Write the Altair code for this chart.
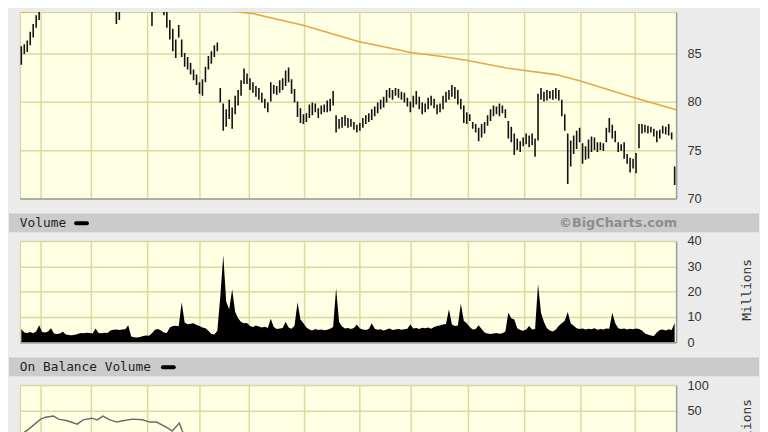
import altair as alt
import pandas as pd

# ---- daily price bars (low / high), one per trading day ----
lo = [83.8, 84.9, 85.1, 85.8, 86.6, 87.6, 88.4, 89.5, 90.2, 90.6,
      90.9, 90.5, 90.3, 90.0, 89.8, 89.6, 89.4, 89.5, 89.7, 89.6,
      89.9, 90.1, 90.4, 90.6, 90.8, 91.0, 90.7, 90.5, 90.2, 90.0,
      89.9, 89.4, 88.0, 88.4, 89.6, 90.1, 90.4, 90.7, 90.9, 91.1,
      90.8, 90.5, 90.3, 89.9, 87.8, 89.2, 89.9, 89.4, 88.9, 87.6,
      86.4, 85.2, 84.5, 86.6, 84.6, 83.6, 83.3, 82.8, 82.2, 81.7,
      80.8, 80.6, 82.0, 83.3, 83.9, 84.6, 85.2, 79.9, 77.0, 77.4,
      78.2, 77.2, 78.7, 79.6, 80.6, 81.8, 81.8, 81.2, 80.9, 80.5,
      80.2, 79.9, 79.3, 78.9, 80.0, 80.8, 80.7, 80.9, 81.2, 81.6,
      82.0, 80.8, 79.9, 78.4, 77.8, 77.7, 77.9, 78.3, 78.6, 78.9,
      78.3, 78.7, 78.9, 78.9, 79.0, 79.6, 76.8, 77.2, 77.3, 77.5,
      77.3, 77.4, 77.1, 76.8, 77.0, 77.3, 77.7, 77.9, 78.1, 78.5,
      78.8, 79.2, 79.4, 79.9, 80.4, 80.2, 80.6, 80.4, 80.2, 79.9,
      79.5, 78.9, 79.4, 79.7, 79.2, 78.7, 78.9, 79.2, 79.6, 79.3,
      78.7, 78.9, 79.2, 79.9, 80.2, 80.5, 80.3, 79.7, 79.2, 77.8,
      77.7, 78.0, 77.2, 76.8, 75.9, 76.3, 76.7, 77.5, 78.0, 78.5,
      78.7, 78.5, 78.8, 78.3, 76.2, 75.8, 74.5, 75.0, 74.8, 75.4,
      75.6, 75.3, 75.5, 74.3, 76.0, 80.2, 80.0, 80.1, 80.3, 80.2,
      80.3, 80.1, 78.5, 77.0, 71.5, 73.3, 74.6, 75.1, 75.8, 73.6,
      74.0, 74.1, 74.8, 75.0, 74.8, 75.0, 74.9, 75.8, 76.8, 76.2,
      75.8, 74.8, 74.9, 74.1, 73.6, 72.7, 73.1, 72.6, 75.2, 76.7,
      76.8, 76.7, 76.8, 76.4, 75.8, 76.2, 76.7, 76.6, 76.5, 76.1,
      71.4]
hi = [85.7, 85.9, 86.3, 87.2, 88.0, 88.9, 89.8, 90.6, 91.3, 91.8,
      92.0, 91.7, 91.4, 91.2, 90.9, 90.8, 90.5, 90.7, 90.9, 90.6,
      91.0, 91.2, 91.5, 91.8, 92.1, 92.3, 91.9, 91.6, 91.4, 91.1,
      91.0, 90.6, 90.4, 90.0, 90.8, 91.2, 91.6, 91.9, 92.2, 92.4,
      92.0, 91.7, 91.4, 91.1, 90.6, 90.5, 91.0, 90.6, 90.2, 89.4,
      88.4, 87.5, 86.4, 87.9, 86.4, 85.0, 84.6, 84.0, 83.3, 82.8,
      82.0, 82.3, 83.6, 84.7, 85.2, 85.8, 86.1, 81.4, 79.8, 79.2,
      80.2, 79.4, 80.6, 81.2, 82.2, 83.4, 82.9, 82.4, 82.0, 81.6,
      81.4, 80.9, 80.3, 79.9, 82.0, 81.7, 81.6, 82.2, 82.4, 83.2,
      83.5, 82.3, 81.3, 80.0, 79.3, 78.7, 78.8, 79.7, 79.9, 79.8,
      79.3, 79.6, 79.7, 80.1, 80.3, 81.1, 78.6, 78.2, 78.4, 78.6,
      78.3, 78.2, 77.9, 77.6, 77.8, 78.3, 78.6, 78.8, 79.2, 79.5,
      79.9, 80.2, 80.5, 81.2, 81.4, 81.2, 81.4, 81.3, 81.0, 80.9,
      80.4, 80.0, 80.6, 81.1, 80.5, 79.9, 79.8, 80.4, 80.6, 80.3,
      79.7, 79.8, 80.6, 81.0, 81.2, 81.7, 81.5, 81.2, 80.3, 79.6,
      78.9, 78.7, 77.9, 77.7, 77.3, 77.7, 77.9, 78.6, 79.2, 79.6,
      79.5, 79.8, 79.6, 79.2, 78.0, 77.4, 76.7, 76.2, 75.9, 76.3,
      76.7, 76.5, 76.7, 76.2, 80.8, 81.4, 81.0, 81.2, 81.1, 81.2,
      81.4, 81.2, 80.2, 78.7, 76.7, 76.0, 76.5, 77.0, 77.3, 75.7,
      75.4, 76.1, 76.4, 76.3, 75.8, 75.8, 75.7, 77.3, 78.3, 77.6,
      77.0, 75.8, 75.6, 75.8, 74.6, 74.2, 74.1, 74.7, 77.7, 77.7,
      77.6, 77.5, 77.4, 77.2, 77.0, 77.1, 77.5, 77.4, 77.7, 76.8,
      73.3]

# ---- daily volume, millions ----
volume = [5.2, 3.8, 3.6, 4.0, 3.5, 4.2, 6.7, 4.0, 3.8, 4.2,
          5.5, 3.4, 3.2, 3.4, 4.1, 3.0, 2.8, 2.7, 2.9, 3.2,
          3.6, 3.5, 3.7, 3.6, 3.4, 5.4, 3.6, 3.5, 3.7, 3.6,
          4.6, 4.9, 5.0, 4.8, 5.0, 5.1, 6.7, 2.2, 1.9, 1.8,
          2.0, 2.4, 2.6, 2.5, 3.5, 4.9, 5.2, 4.6, 3.8, 3.6,
          5.8, 6.4, 6.5, 6.3, 15.8, 7.8, 7.1, 7.3, 7.5, 6.8,
          6.4, 5.8, 5.5, 4.5, 3.2, 3.0, 4.5, 18.0, 34.5, 16.0,
          13.0, 20.9, 12.0, 9.5, 8.0, 7.5, 7.6, 6.4, 6.0, 6.6,
          6.2, 5.8, 6.1, 5.6, 9.3, 6.0, 5.2, 5.4, 5.6, 8.1,
          5.8, 5.3, 6.5, 15.8, 9.0, 7.5, 5.8, 5.0, 4.6, 5.2,
          4.8, 5.0, 4.7, 4.9, 5.3, 6.0, 21.4, 8.0, 6.2, 5.4,
          5.6, 5.2, 5.6, 7.0, 5.4, 5.0, 4.8, 5.2, 7.5, 5.3,
          4.9, 5.1, 4.6, 5.0, 5.4, 4.8, 5.0, 5.2, 4.9, 5.1,
          5.3, 7.0, 5.4, 5.6, 5.2, 5.7, 5.5, 5.8, 5.3, 6.0,
          6.4, 6.6, 7.0, 7.2, 13.0, 7.0, 6.4, 6.6, 15.2, 8.5,
          7.5, 6.0, 5.0, 5.2, 6.7, 5.2, 3.8, 3.4, 3.2, 3.4,
          3.6, 3.3, 3.5, 4.2, 11.6, 9.5, 9.0, 5.5, 4.8, 4.5,
          5.0, 6.4, 5.0, 5.2, 23.0, 11.6, 8.0, 5.5, 4.6, 4.2,
          5.0, 6.5, 7.5, 8.5, 11.9, 7.5, 6.5, 5.5, 5.2, 5.4,
          5.0, 5.3, 5.1, 5.5, 4.9, 5.2, 5.0, 5.4, 5.3, 11.6,
          7.5, 5.5, 5.2, 5.4, 5.0, 5.3, 5.1, 5.4, 5.2, 4.6,
          3.4, 3.0, 2.6, 2.4, 3.8, 4.8, 5.0, 4.6, 5.1, 4.8,
          7.6]

# ---- 200-day moving average (read at a few days) ----
ma_day = [0, 6.5, 15.8, 23.8, 33, 55, 59.7, 70.6, 78.3, 94.9, 113.8,
          124.5, 131.1, 141.1, 150.4, 163.3, 180, 188, 206.2, 220.5]
ma_price = [89.2, 89.35, 89.55, 89.75, 89.8, 89.8, 89.56, 89.33, 89.05,
            87.86, 86.17, 85.5, 85.06, 84.68, 84.24, 83.46, 82.78, 82.14,
            80.41, 79.15]

# ---- on balance volume, millions ----
obv_day = [0, 2.5, 6.5, 8.2, 10.8, 12.5, 15.5, 18.8, 20.8, 23.8, 25.5, 27.5,
           29.8, 32.2, 34.2, 37.5, 40.8, 43.2, 45.5, 48.8, 50.8, 53.2, 54.2,
           56, 60, 68]
obv_value = [2, 12.7, 32.4, 36.3, 38.8, 32.4, 29, 22.5, 31, 34.3, 31, 38.2,
             31, 26.5, 29, 32.4, 31, 26.5, 26.5, 16.7, 8.8, 24.5, 8.8,
             -10, -30, -80]

# monthly grid positions (trading-day index)
month_breaks = [6.5, 23.4, 42.4, 60.0, 76.6, 95.2, 113.8, 131.1, 150.4,
                169.3, 188.1, 206.4]

N = len(hi)
day = list(range(N))

BG = "#ebebeb"
PLOT = "#ffffe3"
GRID = "#dcd8a0"
FRAME = "#9c9c9c"
HEADER = "#cbcbcb"

price_df = pd.DataFrame({"day": day, "lo": lo, "hi": hi})
vol_df = pd.DataFrame({"day": day, "vol": volume})
ma_df = pd.DataFrame({"day": ma_day, "ma": ma_price})
obv_df = pd.DataFrame({"day": obv_day, "obv": obv_value})
one = pd.DataFrame({"k": [0]})

W = 665
PRICE_H = 189
PRICE_PX = 9.83
price_top = 70 + PRICE_H / PRICE_PX
VOL_H = 102.5
OBV_H = 89.25


def x_enc():
    return alt.X("day:Q",
                 scale=alt.Scale(domain=[-0.5, N - 0.5], nice=False, zero=False),
                 axis=alt.Axis(values=month_breaks, labels=False, ticks=False,
                               title=None, grid=True, gridColor=GRID,
                               gridWidth=1.5, domainColor=FRAME,
                               domainWidth=1.5))


def y_axis(values, title=None, title_y=None):
    kw = dict(orient="right", values=values, ticks=False, labelPadding=11,
              grid=True, gridColor=GRID, gridWidth=1.5, domainColor=FRAME,
              domainWidth=1.5, labelFont="Liberation Sans", labelFontSize=13,
              labelColor="#333333")
    if title:
        kw.update(title=title, titleFont="DejaVu Sans Mono", titleFontSize=13,
                  titleFontWeight="normal", titleColor="#333333",
                  titleAngle=270, titleX=71, titleY=title_y,
                  titleAlign="center", titleBaseline="middle")
    else:
        kw.update(title=None)
    return alt.Axis(**kw)


def header(label, dash_x):
    bar = alt.Chart(one).mark_rect(color=HEADER).encode(
        x=alt.value(-11), x2=alt.value(749), y=alt.value(-28), y2=alt.value(-9))
    txt = alt.Chart(one).mark_text(
        text=label, align="left", baseline="middle", font="DejaVu Sans Mono",
        fontSize=13, color="#1e1e1e").encode(x=alt.value(0), y=alt.value(-18))
    dash = alt.Chart(one).mark_rule(
        color="#000000", strokeWidth=4, strokeCap="round").encode(
        x=alt.value(dash_x), x2=alt.value(dash_x + 11), y=alt.value(-18))
    return [bar, txt, dash]


# price panel
price_scale = alt.Scale(domain=[70, price_top], nice=False, zero=False)
price_axis = y_axis([70, 75, 80, 85])
ma_line = alt.Chart(ma_df).mark_line(
    color="#e8a64a", strokeWidth=1.6, clip=True).encode(
    x=x_enc(), y=alt.Y("ma:Q", scale=price_scale, axis=price_axis))
bars = alt.Chart(price_df).mark_rule(
    color="#111111", strokeWidth=1.6, clip=True).encode(
    x=x_enc(), y=alt.Y("lo:Q", scale=price_scale, axis=price_axis), y2="hi:Q")
price = alt.layer(ma_line, bars).properties(width=W, height=PRICE_H)

# volume panel
vol_area = alt.Chart(vol_df).mark_area(color="#000000", clip=True).encode(
    x=x_enc(),
    y=alt.Y("vol:Q", scale=alt.Scale(domain=[0, 40], nice=False),
            axis=y_axis([0, 10, 20, 30, 40], "Millions", 49)))
copyright_txt = alt.Chart(one).mark_text(
    text="\u00a9BigCharts.com", align="right", baseline="middle",
    font="DejaVu Sans", fontWeight="bold", fontSize=13, color="#8d8d8d").encode(
    x=alt.value(666), y=alt.value(-18))
volume_chart = alt.layer(*header("Volume", 57), copyright_txt, vol_area).properties(
    width=W, height=VOL_H)

# on balance volume panel
obv_line = alt.Chart(obv_df).mark_line(
    color="#6a6a6a", strokeWidth=1.5, clip=True).encode(
    x=x_enc(),
    y=alt.Y("obv:Q", scale=alt.Scale(domain=[-75, 100], nice=False, zero=False),
            axis=y_axis([50, 100], "Millions", 45)))
obv_chart = alt.layer(*header("On Balance Volume", 145), obv_line).properties(
    width=W, height=OBV_H)

chart = alt.vconcat(price, volume_chart, obv_chart, spacing=43,
                    bounds="flush").properties(
    background=BG, padding=0).configure_view(
    fill=PLOT, stroke="#d2cea0", strokeWidth=1)

chart.save("out.html", embed_options={"renderer": "svg", "actions": False})
